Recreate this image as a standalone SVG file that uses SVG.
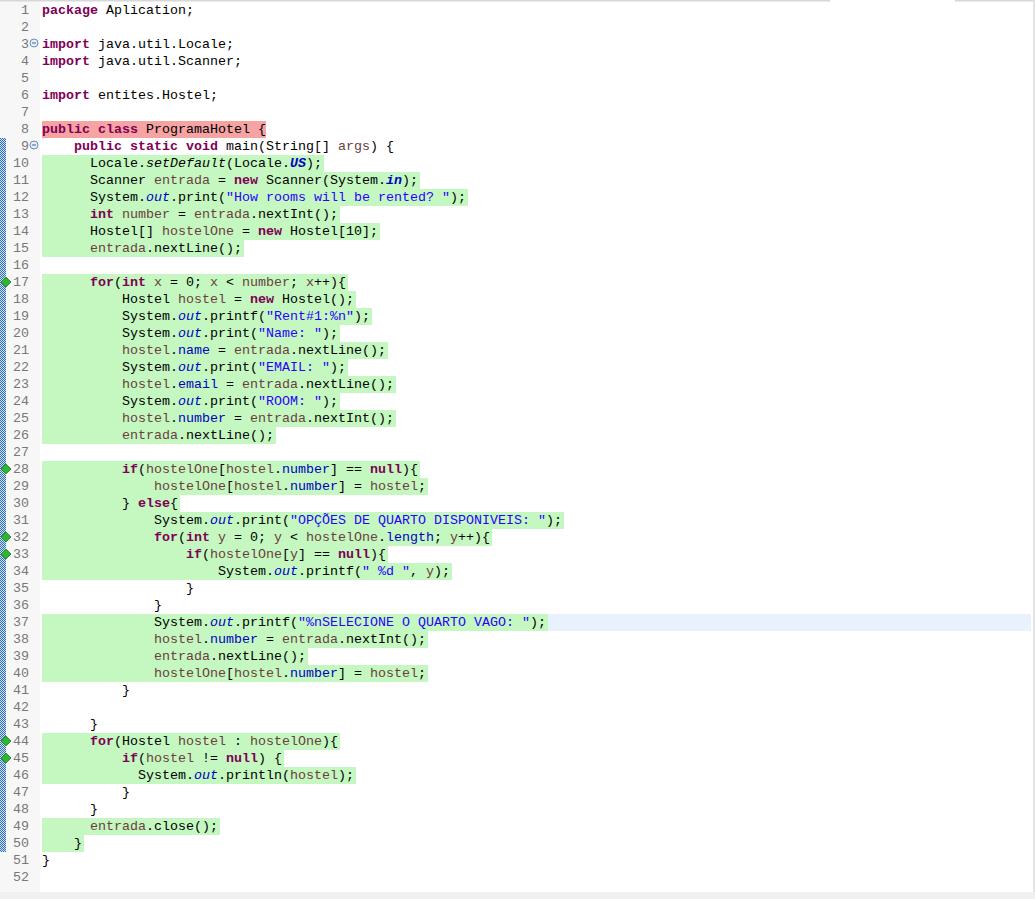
<svg xmlns="http://www.w3.org/2000/svg" width="1035" height="899" viewBox="0 0 1035 899">
<defs>
<style>
text{font-family:"Liberation Mono","Courier New",monospace;font-size:13.33px;fill:#000;white-space:pre}
.ln{fill:#787878;text-anchor:end}
.k{fill:#7f0055;font-weight:bold}
.s{fill:#2a00ff}
.f{fill:#0000c0}
.sf{fill:#0000c0;font-style:italic}
.it{font-style:italic}
.v{fill:#6a3e3e}
.g{fill:#c4f8c0}
</style>
<pattern id="hatch" width="2" height="2" patternUnits="userSpaceOnUse"><rect width="2" height="2" fill="#cfe0f2"/><rect width="1" height="1" fill="#2f6fb5"/><rect x="1" y="1" width="1" height="1" fill="#2f6fb5"/></pattern>
<g id="dia"><polygon points="0,-5 5,0 0,5 -5,0" fill="#2fb52f" stroke="#1a7a1a" stroke-width="0.8"/></g>
</defs>
<rect width="1035" height="899" fill="#fff"/>
<rect x="0" y="0" width="40" height="899" fill="#f7f7f7"/>
<rect x="0" y="0" width="830" height="1.5" fill="#d8d8d8"/>
<rect x="955" y="0" width="80" height="1.5" fill="#d8d8d8"/>
<rect x="1033" y="0" width="2" height="899" fill="#e4e4e4"/>
<rect x="0" y="892" width="1035" height="7" fill="#f0f0f0"/>
<g id="highlights">
<rect x="42" y="614" width="989" height="17" fill="#e8f2fe"/>
<rect x="42" y="121" width="224" height="17" fill="#f5a3a3"/>
<rect class="g" x="42" y="155" width="282" height="17"/>
<rect class="g" x="42" y="172" width="378" height="17"/>
<rect class="g" x="42" y="189" width="426" height="17"/>
<rect class="g" x="42" y="206" width="298" height="17"/>
<rect class="g" x="42" y="223" width="338" height="17"/>
<rect class="g" x="42" y="240" width="202" height="17"/>
<rect class="g" x="42" y="274" width="306" height="17"/>
<rect class="g" x="42" y="291" width="314" height="17"/>
<rect class="g" x="42" y="308" width="330" height="17"/>
<rect class="g" x="42" y="325" width="298" height="17"/>
<rect class="g" x="42" y="342" width="346" height="17"/>
<rect class="g" x="42" y="359" width="306" height="17"/>
<rect class="g" x="42" y="376" width="354" height="17"/>
<rect class="g" x="42" y="393" width="298" height="17"/>
<rect class="g" x="42" y="410" width="354" height="17"/>
<rect class="g" x="42" y="427" width="234" height="17"/>
<rect class="g" x="42" y="461" width="378" height="17"/>
<rect class="g" x="42" y="478" width="386" height="17"/>
<rect class="g" x="42" y="495" width="138" height="17"/>
<rect class="g" x="42" y="512" width="522" height="17"/>
<rect class="g" x="42" y="529" width="450" height="17"/>
<rect class="g" x="42" y="546" width="346" height="17"/>
<rect class="g" x="42" y="563" width="410" height="17"/>
<rect class="g" x="42" y="614" width="506" height="17"/>
<rect class="g" x="42" y="631" width="386" height="17"/>
<rect class="g" x="42" y="648" width="266" height="17"/>
<rect class="g" x="42" y="665" width="386" height="17"/>
<rect class="g" x="42" y="733" width="298" height="17"/>
<rect class="g" x="42" y="750" width="242" height="17"/>
<rect class="g" x="42" y="767" width="314" height="17"/>
<rect class="g" x="42" y="818" width="178" height="17"/>
<rect class="g" x="42" y="835" width="42" height="17"/>
</g>
<rect x="0" y="138" width="6" height="714" fill="url(#hatch)"/>
<g id="markers">
<use href="#dia" x="6" y="282"/>
<use href="#dia" x="6" y="469"/>
<use href="#dia" x="6" y="537"/>
<use href="#dia" x="6" y="554"/>
<use href="#dia" x="6" y="741"/>
<use href="#dia" x="6" y="758"/>
<circle cx="34" cy="43" r="4" fill="#e6edf5" stroke="#6a8fb5" stroke-width="1"/><line x1="32" y1="43" x2="36" y2="43" stroke="#3d6a99"/>
<circle cx="34" cy="145" r="4" fill="#e6edf5" stroke="#6a8fb5" stroke-width="1"/><line x1="32" y1="145" x2="36" y2="145" stroke="#3d6a99"/>
</g>
<g id="linenums">
<text class="ln" x="29" y="14">1</text><text class="ln" x="29" y="31">2</text><text class="ln" x="29" y="48">3</text><text class="ln" x="29" y="65">4</text><text class="ln" x="29" y="82">5</text><text class="ln" x="29" y="99">6</text><text class="ln" x="29" y="116">7</text><text class="ln" x="29" y="133">8</text><text class="ln" x="29" y="150">9</text><text class="ln" x="29" y="167">10</text><text class="ln" x="29" y="184">11</text><text class="ln" x="29" y="201">12</text><text class="ln" x="29" y="218">13</text><text class="ln" x="29" y="235">14</text><text class="ln" x="29" y="252">15</text><text class="ln" x="29" y="269">16</text><text class="ln" x="29" y="286">17</text><text class="ln" x="29" y="303">18</text><text class="ln" x="29" y="320">19</text><text class="ln" x="29" y="337">20</text><text class="ln" x="29" y="354">21</text><text class="ln" x="29" y="371">22</text><text class="ln" x="29" y="388">23</text><text class="ln" x="29" y="405">24</text><text class="ln" x="29" y="422">25</text><text class="ln" x="29" y="439">26</text><text class="ln" x="29" y="456">27</text><text class="ln" x="29" y="473">28</text><text class="ln" x="29" y="490">29</text><text class="ln" x="29" y="507">30</text><text class="ln" x="29" y="524">31</text><text class="ln" x="29" y="541">32</text><text class="ln" x="29" y="558">33</text><text class="ln" x="29" y="575">34</text><text class="ln" x="29" y="592">35</text><text class="ln" x="29" y="609">36</text><text class="ln" x="29" y="626">37</text><text class="ln" x="29" y="643">38</text><text class="ln" x="29" y="660">39</text><text class="ln" x="29" y="677">40</text><text class="ln" x="29" y="694">41</text><text class="ln" x="29" y="711">42</text><text class="ln" x="29" y="728">43</text><text class="ln" x="29" y="745">44</text><text class="ln" x="29" y="762">45</text><text class="ln" x="29" y="779">46</text><text class="ln" x="29" y="796">47</text><text class="ln" x="29" y="813">48</text><text class="ln" x="29" y="830">49</text><text class="ln" x="29" y="847">50</text><text class="ln" x="29" y="864">51</text><text class="ln" x="29" y="881">52</text>
</g>
<g id="code">
<text x="42" y="14"><tspan class="k">package</tspan> Aplication;</text>
<text x="42" y="48"><tspan class="k">import</tspan> java.util.Locale;</text>
<text x="42" y="65"><tspan class="k">import</tspan> java.util.Scanner;</text>
<text x="42" y="99"><tspan class="k">import</tspan> entites.Hostel;</text>
<text x="42" y="133"><tspan class="k">public</tspan> <tspan class="k">class</tspan> ProgramaHotel {</text>
<text x="74" y="150"><tspan class="k">public</tspan> <tspan class="k">static</tspan> <tspan class="k">void</tspan> main(String[] <tspan class="v">args</tspan>) {</text>
<text x="90" y="167">Locale.<tspan class="it">setDefault</tspan>(Locale.<tspan class="sf" font-weight="bold">US</tspan>);</text>
<text x="90" y="184">Scanner <tspan class="v">entrada</tspan> = <tspan class="k">new</tspan> Scanner(System.<tspan class="sf" font-weight="bold">in</tspan>);</text>
<text x="90" y="201">System.<tspan class="sf">out</tspan>.print(<tspan class="s">"How rooms will be rented? "</tspan>);</text>
<text x="90" y="218"><tspan class="k">int</tspan> <tspan class="v">number</tspan> = <tspan class="v">entrada</tspan>.nextInt();</text>
<text x="90" y="235">Hostel[] <tspan class="v">hostelOne</tspan> = <tspan class="k">new</tspan> Hostel[10];</text>
<text x="90" y="252"><tspan class="v">entrada</tspan>.nextLine();</text>
<text x="90" y="286"><tspan class="k">for</tspan>(<tspan class="k">int</tspan> <tspan class="v">x</tspan> = 0; <tspan class="v">x</tspan> &lt; <tspan class="v">number</tspan>; <tspan class="v">x</tspan>++){</text>
<text x="122" y="303">Hostel <tspan class="v">hostel</tspan> = <tspan class="k">new</tspan> Hostel();</text>
<text x="122" y="320">System.<tspan class="sf">out</tspan>.printf(<tspan class="s">"Rent#1:%n"</tspan>);</text>
<text x="122" y="337">System.<tspan class="sf">out</tspan>.print(<tspan class="s">"Name: "</tspan>);</text>
<text x="122" y="354"><tspan class="v">hostel</tspan>.<tspan class="f">name</tspan> = <tspan class="v">entrada</tspan>.nextLine();</text>
<text x="122" y="371">System.<tspan class="sf">out</tspan>.print(<tspan class="s">"EMAIL: "</tspan>);</text>
<text x="122" y="388"><tspan class="v">hostel</tspan>.<tspan class="f">email</tspan> = <tspan class="v">entrada</tspan>.nextLine();</text>
<text x="122" y="405">System.<tspan class="sf">out</tspan>.print(<tspan class="s">"ROOM: "</tspan>);</text>
<text x="122" y="422"><tspan class="v">hostel</tspan>.<tspan class="f">number</tspan> = <tspan class="v">entrada</tspan>.nextInt();</text>
<text x="122" y="439"><tspan class="v">entrada</tspan>.nextLine();</text>
<text x="122" y="473"><tspan class="k">if</tspan>(<tspan class="v">hostelOne</tspan>[<tspan class="v">hostel</tspan>.<tspan class="f">number</tspan>] == <tspan class="k">null</tspan>){</text>
<text x="154" y="490"><tspan class="v">hostelOne</tspan>[<tspan class="v">hostel</tspan>.<tspan class="f">number</tspan>] = <tspan class="v">hostel</tspan>;</text>
<text x="122" y="507">} <tspan class="k">else</tspan>{</text>
<text x="154" y="524">System.<tspan class="sf">out</tspan>.print(<tspan class="s">"OPÇÕES DE QUARTO DISPONIVEIS: "</tspan>);</text>
<text x="154" y="541"><tspan class="k">for</tspan>(<tspan class="k">int</tspan> <tspan class="v">y</tspan> = 0; <tspan class="v">y</tspan> &lt; <tspan class="v">hostelOne</tspan>.<tspan class="f">length</tspan>; <tspan class="v">y</tspan>++){</text>
<text x="186" y="558"><tspan class="k">if</tspan>(<tspan class="v">hostelOne</tspan>[<tspan class="v">y</tspan>] == <tspan class="k">null</tspan>){</text>
<text x="218" y="575">System.<tspan class="sf">out</tspan>.printf(<tspan class="s">" %d "</tspan>, <tspan class="v">y</tspan>);</text>
<text x="186" y="592">}</text>
<text x="154" y="609">}</text>
<text x="154" y="626">System.<tspan class="sf">out</tspan>.printf(<tspan class="s">"%nSELECIONE O QUARTO VAGO: "</tspan>);</text>
<text x="154" y="643"><tspan class="v">hostel</tspan>.<tspan class="f">number</tspan> = <tspan class="v">entrada</tspan>.nextInt();</text>
<text x="154" y="660"><tspan class="v">entrada</tspan>.nextLine();</text>
<text x="154" y="677"><tspan class="v">hostelOne</tspan>[<tspan class="v">hostel</tspan>.<tspan class="f">number</tspan>] = <tspan class="v">hostel</tspan>;</text>
<text x="122" y="694">}</text>
<text x="90" y="728">}</text>
<text x="90" y="745"><tspan class="k">for</tspan>(Hostel <tspan class="v">hostel</tspan> : <tspan class="v">hostelOne</tspan>){</text>
<text x="122" y="762"><tspan class="k">if</tspan>(<tspan class="v">hostel</tspan> != <tspan class="k">null</tspan>) {</text>
<text x="138" y="779">System.<tspan class="sf">out</tspan>.println(<tspan class="v">hostel</tspan>);</text>
<text x="122" y="796">}</text>
<text x="90" y="813">}</text>
<text x="90" y="830"><tspan class="v">entrada</tspan>.close();</text>
<text x="74" y="847">}</text>
<text x="42" y="864">}</text>
</g>
</svg>
